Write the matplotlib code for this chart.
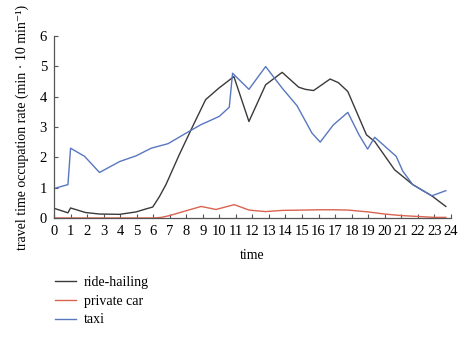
import matplotlib
matplotlib.use("Agg")
import matplotlib.pyplot as plt
from matplotlib.lines import Line2D

# ride-hailing
rh_t = [0, 0.84, 1.0, 1.9, 2.75, 3.97, 4.97, 5.57, 5.97, 6.37, 6.77, 7.57, 8.37, 9.17, 9.97, 10.88,
        11.79, 12.2, 12.8, 13.8, 14.8, 15.2, 15.7, 16.7, 17.2, 17.77, 18.9, 19.4, 20.6, 21.7, 22.85, 23.7]
rh_v = [0.32, 0.17, 0.33, 0.18, 0.13, 0.12, 0.2, 0.3, 0.36, 0.7, 1.1, 2.08, 3.0, 3.9, 4.28, 4.66,
        3.18, 3.67, 4.39, 4.8, 4.31, 4.24, 4.2, 4.58, 4.46, 4.17, 2.74, 2.52, 1.59, 1.1, 0.73, 0.38]

# private car
pc_t = [0, 6.0, 6.5, 7.0, 8.0, 8.9, 9.8, 10.9, 11.8, 12.8, 13.8, 15.0, 16.0, 17.0, 17.8, 19.0,
        20.0, 21.0, 22.0, 23.0, 23.7]
pc_v = [0.0, 0.0, 0.02, 0.08, 0.24, 0.38, 0.28, 0.44, 0.26, 0.21, 0.25, 0.26, 0.27, 0.27, 0.26,
        0.2, 0.13, 0.08, 0.05, 0.02, 0.02]

# taxi
tx_t = [0, 0.84, 1.0, 1.85, 2.75, 3.97, 4.97, 5.88, 6.9, 8.0, 8.9, 9.4, 10.0, 10.6, 10.8,
        11.79, 12.8, 13.8, 14.7, 15.6, 16.1, 16.9, 17.77, 18.45, 18.97, 19.4, 20.7, 21.1, 21.7,
        22.85, 23.7]
tx_v = [0.97, 1.1, 2.3, 2.03, 1.5, 1.86, 2.05, 2.3, 2.45, 2.8, 3.08, 3.2, 3.35, 3.65, 4.77,
        4.24, 4.99, 4.28, 3.7, 2.8, 2.5, 3.07, 3.48, 2.74, 2.27, 2.66, 2.03, 1.54, 1.1,
        0.73, 0.9]

x_ticks = list(range(0, 25))
y_ticks = [0, 1, 2, 3, 4, 5, 6]

plt.rcParams['font.family'] = ['Liberation Serif', 'DejaVu Serif']

fig = plt.figure(figsize=(4.74, 3.39), dpi=100)
ax = fig.add_axes([0.114, 0.357, 0.837, 0.537])

c_rh = '#3a3a3a'
c_pc = '#d9634f'
c_tx = '#5877c0'

ax.plot(rh_t, rh_v, color=c_rh, lw=1.0)
ax.plot(pc_t, pc_v, color=c_pc, lw=1.0)
ax.plot(tx_t, tx_v, color=c_tx, lw=1.0)

ax.set_xlim(0, 24)
ax.set_ylim(0, 6)
ax.set_xticks(x_ticks)
ax.set_yticks(y_ticks)
for s in ['top', 'right']:
    ax.spines[s].set_visible(False)
for s in ['left', 'bottom']:
    ax.spines[s].set_color('#555555')
    ax.spines[s].set_linewidth(0.9)
ax.tick_params(direction='in', length=3, color='#555555', labelsize=10.5, pad=5)
ax.set_xlabel('time', fontsize=10, labelpad=8)
ax.set_ylabel('travel time occupation rate (min · 10 min⁻¹)', fontsize=10, labelpad=8)

handles = [Line2D([], [], color=c_rh, lw=1.0),
           Line2D([], [], color=c_pc, lw=1.0),
           Line2D([], [], color=c_tx, lw=1.0)]
fig.legend(handles, ['ride-hailing', 'private car', 'taxi'], loc='upper left',
           bbox_to_anchor=(0.105, 0.203), frameon=False, fontsize=10,
           handlelength=1.5, handletextpad=0.55, labelspacing=0.42, borderaxespad=0)

fig.savefig('out.png', dpi=100)
